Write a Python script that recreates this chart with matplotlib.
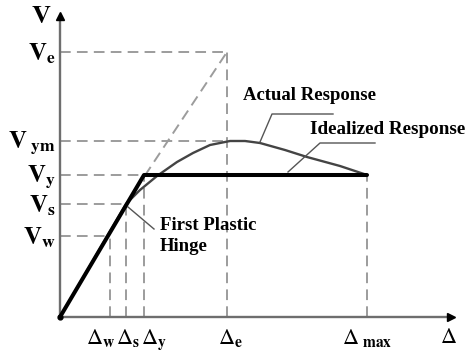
import matplotlib

matplotlib.use('Agg')
import matplotlib.pyplot as plt

# displacement levels (chart units, origin at 0)
d_w, d_s, d_y, d_e, d_max = 50, 66, 84, 167, 307
# force levels
v_w, v_s, v_y, v_ym, v_e = 81, 113, 142, 176, 265

# idealized bilinear response
ideal_x = [0, d_y, d_max]
ideal_v = [0, v_y, v_y]

# actual response curve
act_x = [0, 66, 80, 97, 117, 133, 150, 170, 185, 200, 225, 247, 280, 307]
act_v = [0, 113, 127, 141, 155, 164, 172, 176, 176, 174, 167, 160, 151, 142]

x_end, y_end = 395, 305

v_labels = [r'$\mathbf{V_e}$', r'$\mathbf{V}_{\ \mathbf{ym}}$', r'$\mathbf{V_y}$',
            r'$\mathbf{V_s}$', r'$\mathbf{V_w}$']
v_levels = [v_e, v_ym, v_y, v_s, v_w]
d_labels = [r'$\Delta_{\mathbf{w}}$', r'$\Delta_{\mathbf{s}}$', r'$\Delta_{\mathbf{y}}$',
            r'$\Delta_{\mathbf{e}}$', r'$\Delta_{\ \mathbf{max}}$', r'$\Delta$']
d_levels = [d_w, d_s, d_y, d_e, d_max, x_end - 6]
d_shift = [-9, 2, 10, 4, 0, 0]

plt.rcParams['mathtext.fontset'] = 'stix'
serif = ['Liberation Serif', 'DejaVu Serif']

fig = plt.figure(figsize=(4.74, 3.51), dpi=100)
ax = fig.add_axes([0, 0, 1, 1])
ax.set_xlim(-60, 414)
ax.set_ylim(-34, 317)
ax.axis('off')

dash = dict(color='#9c9c9c', lw=1.4, ls=(0, (5.5, 3.2)), zorder=1)
# horizontal guide lines
ax.plot([0, d_e], [v_e, v_e], **dash)
ax.plot([0, 172], [v_ym, v_ym], **dash)
ax.plot([0, d_y], [v_y, v_y], **dash)
ax.plot([0, d_s], [v_s, v_s], **dash)
ax.plot([0, d_w], [v_w, v_w], **dash)
# vertical guide lines
ax.plot([d_w, d_w], [0, v_w], **dash)
ax.plot([d_s, d_s], [0, v_s], **dash)
ax.plot([d_y, d_y], [0, v_y], **dash)
ax.plot([d_e, d_e], [0, v_e], **dash)
ax.plot([d_max, d_max], [0, v_y], **dash)
# elastic extension
ax.plot([d_s, d_e], [v_s, v_e], **dash)

# axes
ax.plot([0, 0], [0, y_end - 6], color='#6e6e6e', lw=1.7, zorder=2)
ax.plot([0, x_end - 6], [0, 0], color='#6e6e6e', lw=1.7, zorder=2)
ax.plot(0, y_end - 4, marker='^', color='black', ms=6, zorder=3)
ax.plot(x_end - 4, 0, marker='>', color='black', ms=6, zorder=3)
ax.plot(0, 0, marker='o', color='black', ms=3.5, zorder=5)

# responses
ax.plot(act_x, act_v, color='#444444', lw=1.7, zorder=3)
ax.plot(ideal_x, ideal_v, color='black', lw=2.9, solid_capstyle='round', zorder=4)

# leader lines
lead = dict(color='#555555', lw=1.0, zorder=3)
ax.plot([273, 212, 200], [203, 203, 175], **lead)
ax.plot([315, 260, 228], [174, 174, 145], **lead)
ax.plot([68, 94], [110, 88], **lead)

# axis labels
ax.text(-19, 301, r'$\mathbf{V}$', fontsize=19, ha='center', va='center')
for lab, lev in zip(v_labels, v_levels):
    ax.text(-4, lev - 2, lab, fontsize=18, ha='right', va='center')
for lab, lev, sh in zip(d_labels, d_levels, d_shift):
    ax.text(lev + sh, -10, lab, fontsize=16, ha='center', va='top')

ax.text(183, 221, 'Actual Response', family=serif, weight='bold',
        fontsize=13.5, ha='left', va='center')
ax.text(250, 187, 'Idealized Response', family=serif, weight='bold',
        fontsize=13.8, ha='left', va='center')
ax.text(100, 81, 'First Plastic\nHinge', family=serif, weight='bold',
        fontsize=13.5, ha='left', va='center', linespacing=1.35)

fig.savefig('out.png', dpi=100)
